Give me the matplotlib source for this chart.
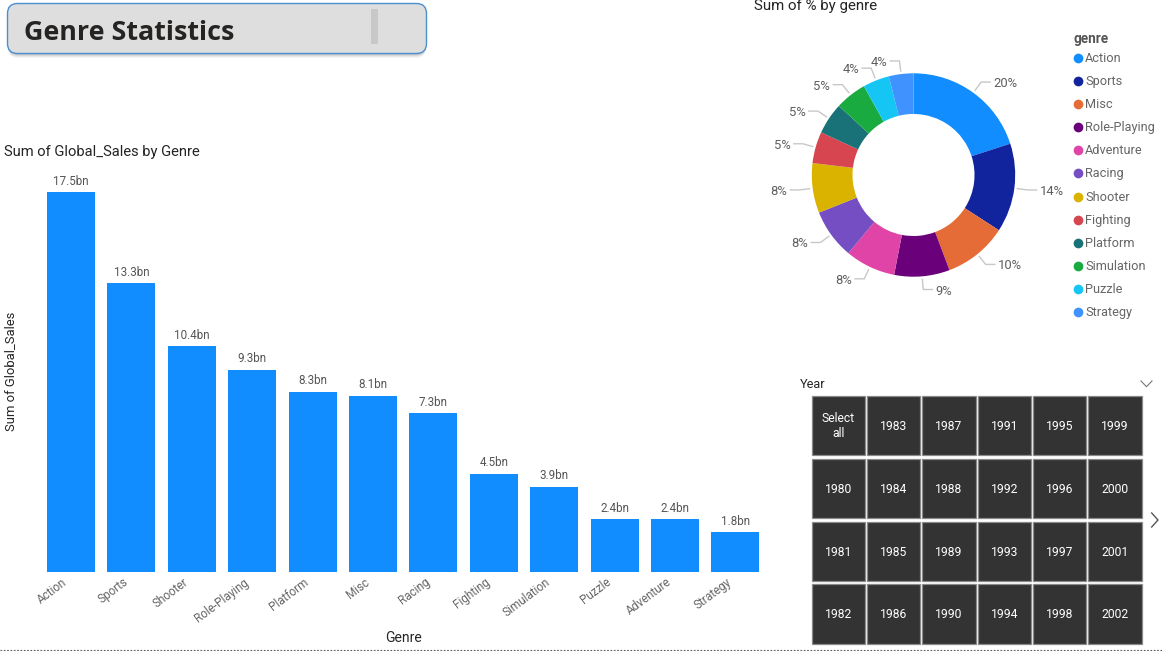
import matplotlib
matplotlib.use("Agg")
import matplotlib.pyplot as plt
import numpy as np
from matplotlib.patches import FancyBboxPatch, Rectangle
from matplotlib.transforms import ScaledTranslation

W, H = 1162, 651

bar_genres = ["Action", "Sports", "Shooter", "Role-Playing", "Platform", "Misc",
              "Racing", "Fighting", "Simulation", "Puzzle", "Adventure", "Strategy"]
bar_sales = [17.5, 13.3, 10.4, 9.3, 8.3, 8.1, 7.3, 4.5, 3.9, 2.4, 2.4, 1.8]

pie_genres = ["Action", "Sports", "Misc", "Role-Playing", "Adventure", "Racing",
              "Shooter", "Fighting", "Platform", "Simulation", "Puzzle", "Strategy"]
pie_share = [20.0, 14.1, 10.1, 8.8, 8.0, 7.9, 7.9, 5.0, 5.0, 5.0, 4.2, 3.9]
pie_labels = ["20%", "14%", "10%", "9%", "8%", "8%", "8%", "5%", "5%", "5%", "4%", "4%"]
pie_colors = ["#118DFF", "#12239E", "#E66C37", "#6B007B", "#E044A7", "#744EC2",
              "#D9B300", "#D64550", "#197278", "#1AAB40", "#15C6F4", "#4092FF"]

years = ["Select\nall", "1980", "1981", "1982", "1983", "1984", "1985", "1986",
         "1987", "1988", "1989", "1990", "1991", "1992", "1993", "1994",
         "1995", "1996", "1997", "1998", "1999", "2000", "2001", "2002"]

plt.rcParams["font.family"] = ["Roboto", "DejaVu Sans"]

fig = plt.figure(figsize=(W / 100, H / 100), dpi=100, facecolor="white")


def px_axes(left, top, right, bottom):
    return fig.add_axes([left / W, 1 - bottom / H, (right - left) / W, (bottom - top) / H])


# overlay in pixel coordinates for the report furniture
page = fig.add_axes([0, 0, 1, 1], zorder=0)
page.set_xlim(0, W)
page.set_ylim(H, 0)
page.axis("off")

# header card
for off, alpha in [(5, 0.04), (4, 0.05), (3, 0.07), (2, 0.08)]:
    page.add_patch(FancyBboxPatch((8, 4 + off), 418, 49, boxstyle="round,pad=0,rounding_size=10",
                                  fc="black", ec="none", alpha=alpha))
page.add_patch(FancyBboxPatch((7.5, 3.5), 419, 50, boxstyle="round,pad=0,rounding_size=10",
                              fc="#DEDEDE", ec="#4A90D0", lw=1))
page.add_patch(Rectangle((371, 9), 7, 35, fc="#C8C8C8", ec="none"))
page.text(24, 33.5, "Genre Statistics", fontsize=19.4, fontweight="bold", family="Open Sans",
          color="#252423", va="center")

# bar chart
bar_step = 60.4
bar_left, bar_right = 40, 770
ax = px_axes(bar_left, 170, bar_right, 571.5)
ax.set_xlim((bar_left - 71) / bar_step, (bar_right - 71) / bar_step)
ax.set_ylim(0, 17.5 * (571.5 - 170) / (571.5 - 192))
ax.patch.set_alpha(0)
x = np.arange(len(bar_genres))
ax.bar(x, bar_sales, width=0.795, color="#118DFF")
for i, v in zip(x, bar_sales):
    ax.annotate(f"{v}bn", (i, v), xytext=(0, 3.2), textcoords="offset points",
                ha="center", va="bottom", fontsize=8.4, color="#555555")
ax.set_xticks(x)
ax.set_xticklabels(bar_genres, rotation=37, ha="right", va="top", rotation_mode="anchor",
                   fontsize=8.5, color="#666666")
ax.tick_params(axis="x", length=0, pad=3)
shift = ScaledTranslation(-9 / 100, 0, fig.dpi_scale_trans)
for lab in ax.get_xticklabels():
    lab.set_transform(lab.get_transform() + shift)
ax.set_yticks([])
for s in ax.spines.values():
    s.set_visible(False)

page.text(4, 152, "Sum of Global_Sales by Genre", fontsize=10.6, color="#252423", va="center")
page.text(11, 371, "Sum of Global_Sales", fontsize=9.4, color="#252423", rotation=90,
          ha="center", va="center")
page.text(403, 638, "Genre", fontsize=10, color="#252423", ha="center", va="center")

# donut
cx, cy, radius = 913.5, 175, 101.7
donut = px_axes(cx - radius, cy - radius, cx + radius, cy + radius)
donut.patch.set_alpha(0)
donut.pie(pie_share, colors=pie_colors, startangle=90, counterclock=False, radius=1,
          wedgeprops={"width": 0.4, "linewidth": 0})
donut.set_xlim(-1, 1)
donut.set_ylim(-1, 1)

# leader lines from the slice middles
ends = np.cumsum(pie_share) / sum(pie_share) * 2 * np.pi
mids = ends - np.array(pie_share) / sum(pie_share) * np.pi
for mid, lab in zip(mids, pie_labels):
    ux, uy = np.sin(mid), np.cos(mid)
    side = 1 if ux >= 0 else -1
    r1, r2 = 1.03, 1.13
    run = 0.09
    donut.plot([r1 * ux, r2 * ux, r2 * ux + side * run], [r1 * uy, r2 * uy, r2 * uy],
               color="#C8C8C8", lw=1, clip_on=False)
    donut.text(r2 * ux + side * (run + 0.03), r2 * uy - 0.015, lab, fontsize=9.4, color="#605E5C",
               ha="left" if side > 0 else "right", va="center", clip_on=False)

page.text(754, 6, "Sum of % by genre", fontsize=10.8, color="#252423", va="center")

# legend
page.text(1073, 38.5, "genre", fontsize=9.8, fontweight="bold", color="#555555", va="center")
for i, (name, col) in enumerate(zip(pie_genres, pie_colors)):
    y = 57.7 + i * 23.15
    page.plot([1078.3], [y], "o", ms=7, color=col, mew=0)
    page.text(1085, y + 0.5, name, fontsize=9.2, color="#666666", va="center")

# year slicer
page.text(800, 384.5, "Year", fontsize=9.2, color="#252423", va="center")
page.plot([1141, 1146.5, 1152], [381, 386.7, 381], color="#777777", lw=0.8)
page.plot([1151.7, 1158, 1151.7], [513, 520, 527], color="#555555", lw=1)
for k, label in enumerate(years):
    col, row = k // 4, k % 4
    x0 = 811.7 + col * 55.3
    y0 = 395.7 + row * 62.9
    page.add_patch(Rectangle((x0, y0), 53.4, 59.5, fc="#333333", ec="#8A8A8A", lw=0.9))
    page.text(x0 + 26.7, y0 + 30.5, label, fontsize=8.7, color="white", ha="center", va="center",
              linespacing=1.25)

page.plot([0, W], [649.5, 649.5], color="#555555", lw=0.8, dashes=(1.5, 1.5))

fig.savefig("out.png", dpi=100)
